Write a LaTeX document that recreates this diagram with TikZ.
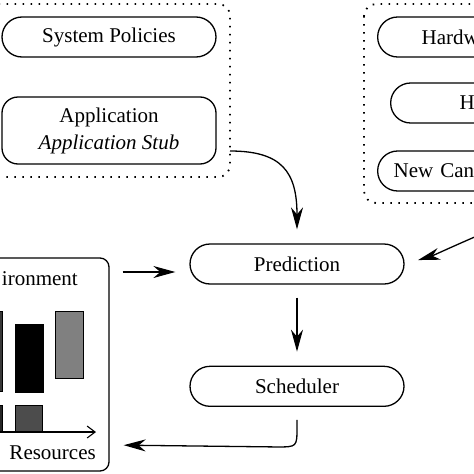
\documentclass[tikz,border=0pt]{standalone}
\usepackage{fontspec}
\setmainfont{Liberation Serif}
\usepackage{tikz}
\usetikzlibrary{arrows.meta,positioning,calc}

\begin{document}
\begin{tikzpicture}[
  x=1pt, y=-1pt,
  every node/.style={font=\fontsize{21}{27}\selectfont},
  pill/.style={draw,rounded corners=20pt,minimum height=40pt,minimum width=214pt,line width=1.3pt,inner sep=0pt},
  grp/.style={draw,line width=1.8pt,dash pattern=on 1.6pt off 6.4pt,rounded corners=12pt},
  arr/.style={-{Stealth[length=22pt,width=12pt,inset=7pt]},line width=1.3pt,shorten <=13pt,shorten >=14pt},
  bar/.style={draw,line width=1pt},
]
\useasboundingbox (0,0) rectangle (474,474);
\clip (0,0) rectangle (474,474);

% left group
\draw[grp] (-30,4) rectangle (230,177);
\node[pill] (syspol) at (109,37) {System Policies};
\node[pill,rounded corners=16pt,minimum height=67pt,align=center] (app) at (109,130.5)
  {Application\\\textit{Application Stub}};

% right group
\draw[grp] (364,4) rectangle (620,203);
\node[pill,anchor=west,align=left,text width=200pt,inner xsep=44pt] (hw) at (377,37) {Hardw};
\node[pill,anchor=west,align=left,text width=200pt,inner xsep=69pt] (hist) at (390,103) {H};
\node[pill,anchor=west,align=left,text width=200pt,inner xsep=16pt] (newc) at (377,171) {New Can};

% middle
\node[pill] (pred) at (297,264) {Prediction};
\node[pill,below=81pt of pred] (sched) {Scheduler};

% environment
\node[draw,rounded corners=9pt,line width=1.3pt,minimum width=200pt,minimum height=213pt] (env) at (9,364.5) {};
\node[anchor=base east,inner sep=0pt] (envlab) at (78,285) {ironment};
\draw[bar,fill=black!78] (-20,311) rectangle (2,391);
\draw[bar,fill=black] (15,324) rectangle (43,392);
\draw[bar,fill=black!50] (55,311) rectangle (83,378);
\draw[bar,fill=black!85] (-20,405) rectangle (2,431);
\draw[bar,fill=black!70] (15,405) rectangle (42,431);
\coordinate (ax0) at (-20,432);
\draw[-{Straight Barb[length=8pt,width=12pt]},line width=1.1pt] (ax0) -- (96,432);
\node[anchor=base east,inner sep=0pt] (reslab) at (96,459) {Resources};

% arrows
\coordinate (lgout) at (230,151);
\coordinate (rgout) at (500,226);
\coordinate (envin) at ($(pred.west)+(0,8)$);
\draw[arr,shorten <=0pt] (lgout) .. controls (282,151) and (297,172) .. (pred.north);
\draw[arr,shorten <=0pt] (rgout) .. controls (458,244) and (432,256) .. (pred.east);
\draw[arr] (env.east |- envin) -- (envin);
\draw[arr] (pred.south) -- (sched.north);
\draw[arr] (sched.south) -- ++(0,20) .. controls ++(0,20) and ++(20,0) .. ++(-20,20) -- (env.east |- 0,445);
\end{tikzpicture}
\end{document}
